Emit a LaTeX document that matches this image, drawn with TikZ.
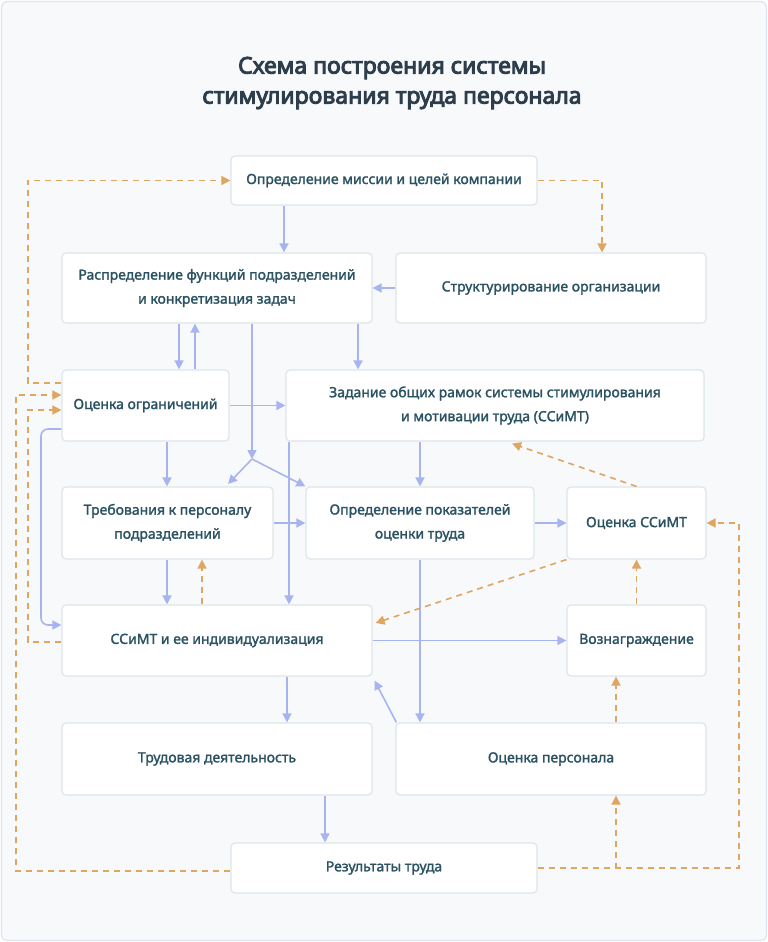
\documentclass[tikz,border=0pt]{standalone}
\usepackage{fontspec}
\setmainfont{Noto Sans}
\newfontfamily\boxfont[FakeBold=1.8]{Noto Sans}
\newfontfamily\titlefont[FakeBold=4]{Noto Sans}
\usetikzlibrary{arrows.meta,calc}
\definecolor{pagebg}{HTML}{F8F9FB}
\definecolor{framec}{HTML}{DFE5EF}
\definecolor{boxline}{HTML}{DCE6EA}
\definecolor{txt}{HTML}{2B5262}
\definecolor{titlec}{HTML}{2E3D4C}
\definecolor{bluec}{HTML}{A8B4EF}
\definecolor{orc}{HTML}{DFA563}
\tikzset{
  box/.style={draw=boxline, line width=1.2pt, fill=white, rounded corners=4pt,
    inner sep=0pt, align=center, text=txt, font=\boxfont\fontsize{14}{24}\selectfont},
  bl/.style={draw=bluec, line width=1.6pt, -{Triangle[length=9pt,width=9pt]}},
  orl/.style={draw=orc, line width=1.6pt, dash pattern=on 6pt off 5pt, -{Triangle[length=9pt,width=9pt]}},
}
\begin{document}
\begin{tikzpicture}[x=1pt,y=-1pt]
\fill[white] (0,0) rectangle (768,942);
\useasboundingbox (0,0) rectangle (768,942);
\draw[framec, fill=pagebg, line width=1.2pt, rounded corners=6pt] (1.5,1.5) rectangle (766.5,940.5);

\node[text=titlec, align=center, font=\titlefont\fontsize{23}{30}\selectfont] (title) at (392,83)
  {Схема построения системы\\стимулирования труда персонала};

\node[box, minimum width=306pt, minimum height=49pt] (mis) at (384,180.5) {Определение миссии и целей компании};
\node[box, minimum width=310pt, minimum height=70pt] (rasp) at (217,288) {Распределение функций подразделений\\и конкретизация задач};
\node[box, minimum width=310pt, minimum height=70pt] (str) at (551,288) {Структурирование организации};
\node[box, minimum width=167pt, minimum height=71pt] (ogr) at (145.5,405.5) {Оценка ограничений};
\node[box, minimum width=418pt, minimum height=71pt] (zad) at (495,405.5) {Задание общих рамок системы стимулирования\\и мотивации труда (ССиМТ)};
\node[box, minimum width=211pt, minimum height=72pt] (treb) at (167.5,523) {Требования к персоналу\\подразделений};
\node[box, minimum width=228pt, minimum height=72pt] (pok) at (420,523) {Определение показателей\\оценки труда};
\node[box, minimum width=139pt, minimum height=72pt] (osm) at (636.5,523) {Оценка ССиМТ};
\node[box, minimum width=310pt, minimum height=71pt] (ind) at (217,640.5) {ССиМТ и ее индивидуализация};
\node[box, minimum width=139pt, minimum height=71pt] (voz) at (636.5,640.5) {Вознаграждение};
\node[box, minimum width=310pt, minimum height=72pt] (trud) at (217,759) {Трудовая деятельность};
\node[box, minimum width=310pt, minimum height=72pt] (oper) at (551,759) {Оценка персонала};
\node[box, minimum width=306pt, minimum height=50pt] (rez) at (384,868) {Результаты труда};

% blue connectors
\draw[bl] (mis.south -| 284,0) -- (rasp.north -| 284,0);
\draw[bl] (str.west) -- (rasp.east);
\draw[bl] (rasp.south -| 179,0) -- (ogr.north -| 179,0);
\draw[bl] (ogr.north -| 195,0) -- (rasp.south -| 195,0);
\coordinate (br) at (252,459);
\coordinate (tt) at (228,484);
\draw[bl] (rasp.south -| br) -- (br);
\draw[bl] (br) -- (tt);
\draw[bl] (br) -- (pok.north west);
\draw[bl] (rasp.south -| 358,0) -- (zad.north -| 358,0);
\draw[bl] (ogr.east) -- (zad.west);
\draw[bl] (ogr.south -| 167,0) -- (treb.north -| 167,0);
\draw[bl, rounded corners=7pt] (ogr.west |- 0,429) -- (41,429) -- (41,625) -- (ind.west |- 0,625);
\draw[bl] (zad.south -| 289,0) -- (ind.north -| 289,0);
\draw[bl] (zad.south -| 420,0) -- (pok.north -| 420,0);
\draw[bl] (treb.east) -- (pok.west);
\draw[bl] (treb.south -| 167,0) -- (ind.north -| 167,0);
\draw[bl] (pok.east) -- (osm.west);
\draw[bl] (pok.south -| 420,0) -- (oper.north -| 420,0);
\draw[bl] (ind.east) -- (voz.west);
\draw[bl] (ind.south -| 287,0) -- (trud.north -| 287,0);
\draw[bl] ([xshift=1pt]oper.north west) -- ($(ind.south east)+(2,4)$);
\draw[bl] (trud.south -| 325,0) -- (rez.north -| 325,0);

% orange dashed connectors
\draw[orl] (ogr.west |- 0,383) -- (28,383) -- (28,180.5) -- (mis.west);
\draw[orl] (mis.east) -- (602,180.5) -- (str.north -| 602,0);
\draw[orl] (rez.west |- 0,871) -- (16,871) -- (16,395) -- (ogr.west |- 0,395);
\draw[orl] (ind.west |- 0,642) -- (28,642) -- (28,410) -- (ogr.west |- 0,410);
\draw[orl] (ind.north -| 202,0) -- (treb.south -| 202,0);
\draw[orl] (osm.south west) -- ($(ind.east |- 0,623)+(3,0)$);
\draw[orl] (osm.north) -- ($(zad.south -| 512,0)+(0,2)$);
\draw[orl] (voz.north) -- (osm.south);
\draw[orl] (oper.north -| 616,0) -- (voz.south -| 616,0);
\draw[orl] (rez.east) -- (616,868) -- (oper.south -| 616,0);
\draw[orl] (rez.east) -- (739,868) -- (739,523) -- (osm.east);
\end{tikzpicture}
\end{document}
